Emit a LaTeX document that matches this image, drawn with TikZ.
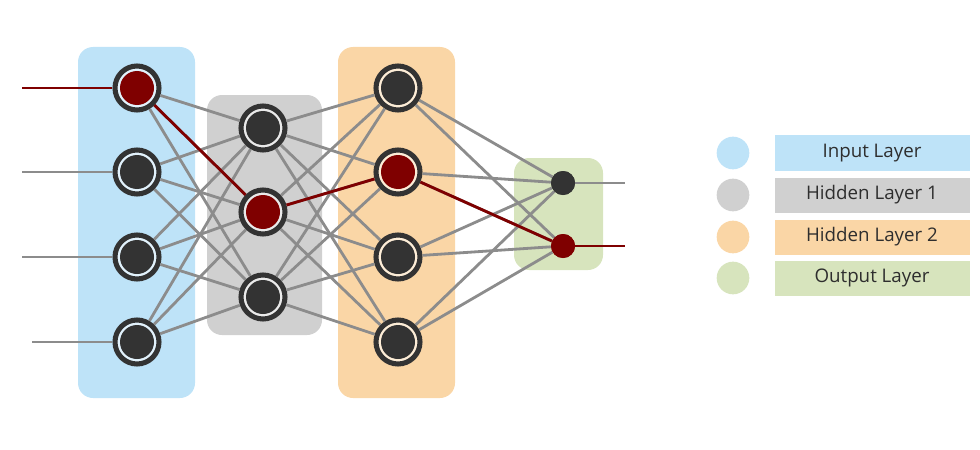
\documentclass[tikz,border=0pt]{standalone}
\usepackage{fontspec}
\setmainfont{Open Sans}
\definecolor{cblue}{HTML}{BEE3F8}
\definecolor{cgray}{HTML}{D0D0D0}
\definecolor{corange}{HTML}{FAD6A6}
\definecolor{cgreen}{HTML}{D7E4BD}
\definecolor{dk}{HTML}{333333}
\definecolor{dred}{HTML}{7F0000}
\definecolor{ln}{HTML}{8C8C8C}
\begin{document}
\begin{tikzpicture}[x=0.03cm,y=-0.03cm,
  layerbox/.style={rounded corners=0.45cm},
  nn/.style={circle,draw=dk,line width=4.3pt,minimum size=1.32cm,inner sep=0pt},
  edge/.style={draw=ln,line width=2.4pt},
  redge/.style={draw=dred,line width=2.4pt},
  onode/.style={circle,minimum size=0.72cm,inner sep=0pt},
  lgc/.style={circle,minimum size=0.98cm,inner sep=0pt},
  lgr/.style={minimum width=5.85cm,minimum height=1.05cm,inner sep=0pt,font=\fontsize{16}{19}\selectfont,text=dk!90!black}]
\useasboundingbox (0,0) rectangle (980,450);
\fill[cblue,layerbox] (78,47) rectangle (195,398);
\fill[cgray,layerbox] (207,95) rectangle (322,335);
\fill[corange,layerbox] (338,47) rectangle (455,398);
\fill[cgreen,layerbox] (514,158) rectangle (603,270);
% input nodes
\foreach \i/\y in {1/88,2/172,3/257,4/342}
  \node[nn,fill=white!55!cblue] (i\i) at (137,\y) {};
\foreach \i/\y in {1/128,2/212,3/297}
  \node[nn,fill=white!55!cgray] (h\i) at (263,\y) {};
\foreach \i/\y in {1/88,2/172,3/257,4/342}
  \node[nn,fill=white!55!corange] (k\i) at (398,\y) {};
\node[onode,fill=dk] (o1) at (563,183) {};
\node[onode,fill=dred] (o2) at (563,246) {};
\coordinate (s1) at (22,88);
\coordinate (s2) at (22,172);
\coordinate (s3) at (22,257);
\coordinate (s4) at (32,342);
\coordinate (e1) at (625,183);
\coordinate (e2) at (625,246);
\begin{scope}[on background layer/.style={}]
\foreach \a in {1,...,4}{\foreach \b in {1,2,3}{\draw[edge] (i\a) -- (h\b);}}
\foreach \a in {1,2,3}{\foreach \b in {1,...,4}{\draw[edge] (h\a) -- (k\b);}}
\foreach \a in {1,...,4}{\foreach \b in {1,2}{\draw[edge] (k\a) -- (o\b);}}
\draw[edge] (s2) -- (i2);
\draw[edge] (s3) -- (i3);
\draw[edge] (s4) -- (i4);
\draw[edge] (o1) -- (e1);
\draw[redge] (s1) -- (i1);
\draw[redge] (i1) -- (h2);
\draw[redge] (h2) -- (k2);
\draw[redge] (k2) -- (o2);
\draw[redge] (o2) -- (e2);
\end{scope}
% inner dots
\foreach \n in {i2,i3,i4,h1,h3,k1,k3,k4} \fill[dk] (\n) circle (0.51cm);
\foreach \n in {i1,h2,k2} \fill[dred] (\n) circle (0.51cm);
\node[onode,fill=dk] at (o1) {};
\node[onode,fill=dred] at (o2) {};
% legend
\node[lgc,fill=cblue] (c1) at (733,153) {};
\node[lgc,fill=cgray] (c2) at (733,195) {};
\node[lgc,fill=corange] (c3) at (733,237) {};
\node[lgc,fill=cgreen] (c4) at (733,278) {};
\node[lgr,fill=cblue] (r1) at (872,153) {Input Layer};
\node[lgr,fill=cgray] (r2) at (872,195) {Hidden Layer 1};
\node[lgr,fill=corange] (r3) at (872,237) {Hidden Layer 2};
\node[lgr,fill=cgreen] (r4) at (872,278) {Output Layer};
\end{tikzpicture}
\end{document}
